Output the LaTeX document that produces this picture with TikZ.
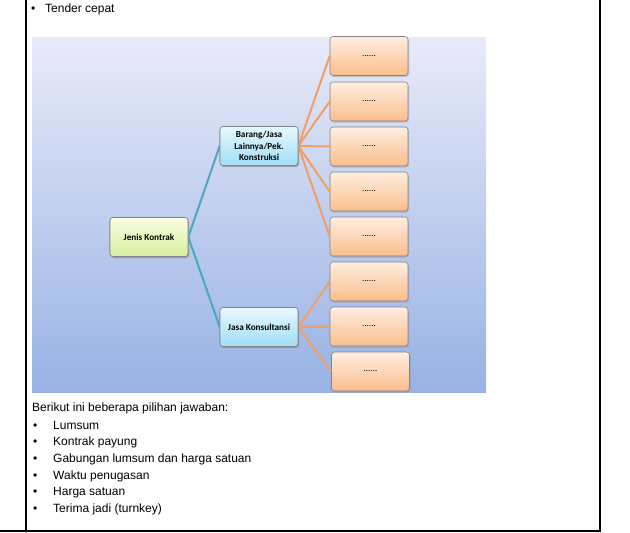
\documentclass[tikz,border=0pt]{standalone}
\usepackage{fontspec}
\setmainfont{Liberation Sans}
\newfontfamily\nodefont{Carlito}
\usetikzlibrary{shadows}
\definecolor{bgtop}{RGB}{232,234,249}
\definecolor{bgbot}{RGB}{152,178,228}
\definecolor{lnblue}{RGB}{74,168,196}
\definecolor{lnorange}{RGB}{240,160,100}
\definecolor{ortop}{RGB}{254,238,224}
\definecolor{orbot}{RGB}{251,190,140}
\definecolor{gntop}{RGB}{251,254,226}
\definecolor{gnbot}{RGB}{214,240,160}
\definecolor{bltop}{RGB}{232,248,254}
\definecolor{blbot}{RGB}{160,222,246}
\definecolor{boxborder}{RGB}{130,130,140}
\tikzset{
  box/.style={draw=boxborder, line width=0.6pt, rounded corners=3pt, minimum width=78pt, minimum height=39pt, inner sep=1pt, align=center, font=\nodefont\fontsize{9.2}{11.5}\selectfont, drop shadow={shadow xshift=1pt, shadow yshift=-1.5pt, opacity=0.35}},
  orbox/.style={box, top color=ortop, bottom color=orbot},
  gnbox/.style={box, top color=gntop, bottom color=gnbot},
  blbox/.style={box, top color=bltop, bottom color=blbot},
  bline/.style={draw=lnblue, line width=2pt},
  oline/.style={draw=lnorange, line width=2pt},
  txt/.style={anchor=base west, inner sep=0pt, font=\fontsize{12}{14}\selectfont},
  frame/.style={line width=1.2pt}
}
\begin{document}
\begin{tikzpicture}[x=1pt,y=-1pt]
\useasboundingbox (0,0) rectangle (630,533);
% frame
\draw[frame] (26,0) -- (26,531);
\draw[frame] (600,0) -- (600,531);
\draw[frame] (0,531) -- (600.6,531);
% background
\shade[top color=bgtop, bottom color=bgbot] (32,37) rectangle (486,392);
% nodes (placed first to get anchors)
\path (149,237) node[gnbox] (jk) {\bfseries Jenis Kontrak};
\path (259,146) node[blbox] (bj) {\bfseries Barang/Jasa\\\bfseries Lainnya/Pek.\\\bfseries Konstruksi};
\path (259,327) node[blbox] (jkon) {\bfseries Jasa Konsultansi};
\node[orbox] (o1) at (369,56) {......};
\node[orbox] (o2) at (369,101.5) {......};
\node[orbox] (o3) at (369,146.5) {......};
\node[orbox] (o4) at (369,191.5) {......};
\node[orbox] (o5) at (369,236.5) {......};
\node[orbox] (o6) at (369,281.5) {......};
\node[orbox] (o7) at (369,326.5) {......};
\node[orbox] (o8) at (370.5,371.5) {......};
% connectors
\draw[bline] (jk.east) -- (bj.west);
\draw[bline] (jk.east) -- (jkon.west);
\foreach \n in {o1,o2,o3,o4,o5} \draw[oline] (bj.east) -- (\n.west);
\foreach \n in {o6,o7,o8} \draw[oline] (jkon.east) -- (\n.west);
% redraw middle nodes above lines
\node[gnbox] (jkb) at (149,237) {\bfseries Jenis Kontrak};
\node[blbox] (bjb) at (259,146) {\bfseries Barang/Jasa\\\bfseries Lainnya/Pek.\\\bfseries Konstruksi};
\node[blbox] (jkonb) at (259,327) {\bfseries Jasa Konsultansi};
% texts
\node[txt] (b0) at (31,12) {\textbullet};
\node[txt] (t0) at (45,12) {Tender cepat};
\node[txt] (intro) at (32,411) {Berikut ini beberapa pilihan jawaban:};
\foreach \y/\t [count=\i] in {429/Lumsum, 445/Kontrak payung, 462/Gabungan lumsum dan harga satuan, 479/Waktu penugasan, 495/Harga satuan, 512/Terima jadi (turnkey)} {
  \node[txt] (bul\i) at (33,\y) {\textbullet};
  \node[txt] (item\i) at (53,\y) {\t};
}
\end{tikzpicture}
\end{document}
